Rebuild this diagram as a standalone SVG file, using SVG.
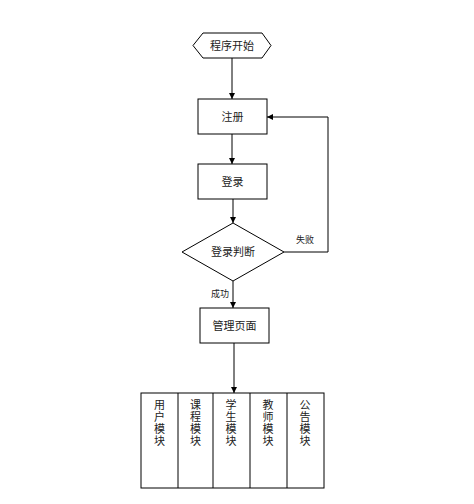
<svg xmlns="http://www.w3.org/2000/svg" width="474" height="504" viewBox="0 0 474 504">
<style>
.s{fill:#fff;stroke:#000;stroke-width:1}
.t{font-family:"Liberation Sans","Noto Sans CJK SC",sans-serif;font-size:11px;fill:#222;text-anchor:middle;dominant-baseline:central}
.l{font-family:"Liberation Sans","Noto Sans CJK SC",sans-serif;font-size:9px;fill:#222;text-anchor:middle;dominant-baseline:central}
.c{fill:none;stroke:#000;stroke-width:1}
</style>
<defs>
<marker id="a" markerWidth="6" markerHeight="6" refX="6" refY="3" orient="auto" markerUnits="userSpaceOnUse">
<path d="M0,0 L6,3 L0,6 Z" fill="#000"/>
</marker>
</defs>
<rect width="474" height="504" fill="#fff"/>
<g id="connectors">
<path class="c" d="M232,58 V99" marker-end="url(#a)"/>
<path class="c" d="M232,134 V164" marker-end="url(#a)"/>
<path class="c" d="M233,199 V223" marker-end="url(#a)"/>
<path class="c" d="M233,281 V308" marker-end="url(#a)"/>
<path class="c" d="M234,343 V393" marker-end="url(#a)"/>
<path class="c" d="M284,252 H328 V117 H267" marker-end="url(#a)"/>
<text class="l" x="305" y="240">失败</text>
<text class="l" x="220" y="294">成功</text>
</g>
<g id="start">
<polygon class="s" points="193,45.5 203,33 262,33 271,45.5 262,58 203,58"/>
<text class="t" x="232" y="45.5">程序开始</text>
</g>
<g id="register">
<rect class="s" x="198" y="99" width="69" height="35"/>
<text class="t" x="232.5" y="116.5">注册</text>
</g>
<g id="login">
<rect class="s" x="198" y="164" width="69" height="35"/>
<text class="t" x="232.5" y="181.5">登录</text>
</g>
<g id="check">
<polygon class="s" points="233,223 284,252 233,281 182,252"/>
<text class="t" x="233" y="252">登录判断</text>
</g>
<g id="manage">
<rect class="s" x="200" y="308" width="69" height="35"/>
<text class="t" x="234.5" y="325.5">管理页面</text>
</g>
<g id="modules">
<rect class="s" x="141" y="393" width="183" height="95"/>
<path class="c" d="M178,393 V488 M213,393 V488 M250,393 V488 M287,393 V488"/>
<text class="t" x="159.5"><tspan x="159.5" y="405">用</tspan><tspan x="159.5" y="417">户</tspan><tspan x="159.5" y="429">模</tspan><tspan x="159.5" y="441">块</tspan></text>
<text class="t" x="195.5"><tspan x="195.5" y="405">课</tspan><tspan x="195.5" y="417">程</tspan><tspan x="195.5" y="429">模</tspan><tspan x="195.5" y="441">块</tspan></text>
<text class="t" x="231"><tspan x="231" y="405">学</tspan><tspan x="231" y="417">生</tspan><tspan x="231" y="429">模</tspan><tspan x="231" y="441">块</tspan></text>
<text class="t" x="268"><tspan x="268" y="405">教</tspan><tspan x="268" y="417">师</tspan><tspan x="268" y="429">模</tspan><tspan x="268" y="441">块</tspan></text>
<text class="t" x="305"><tspan x="305" y="405">公</tspan><tspan x="305" y="417">告</tspan><tspan x="305" y="429">模</tspan><tspan x="305" y="441">块</tspan></text>
</g>
</svg>
